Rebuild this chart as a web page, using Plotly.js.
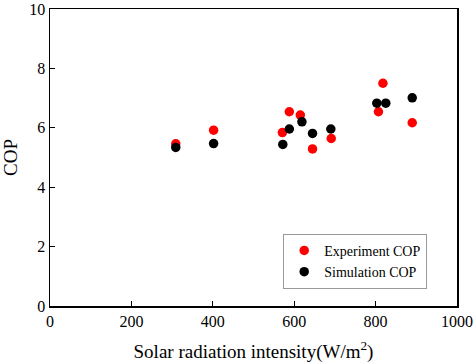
<!DOCTYPE html>
<html>
<head>
<meta charset="utf-8">
<script src="https://cdn.plot.ly/plotly-3.0.1.min.js"></script>
<style>html,body{margin:0;padding:0;background:#fff;}#chart{width:474px;height:364px;}</style>
</head>
<body>
<div id="chart"></div>
<script>
const expX = [309, 402, 571, 588, 615, 645, 691, 807, 818, 890];
const expY = [5.46, 5.92, 5.84, 6.54, 6.43, 5.29, 5.64, 6.54, 7.5, 6.17];
const simX = [309, 402, 572, 588, 619, 645, 690, 803, 825, 890];
const simY = [5.34, 5.47, 5.44, 5.96, 6.2, 5.81, 5.96, 6.83, 6.83, 7.01];
const xTicks = [0, 200, 400, 600, 800, 1000];
const yTicks = [0, 2, 4, 6, 8, 10];

const serif = "'Liberation Serif', 'Times New Roman', serif";
const traces = [
  {x: expX, y: expY, mode: 'markers', type: 'scatter', name: 'Experiment COP',
   marker: {color: '#ff0000', size: 9.5}},
  {x: simX, y: simY, mode: 'markers', type: 'scatter', name: 'Simulation COP',
   marker: {color: '#000000', size: 9.5}}
];
function axis(extra) {
  return Object.assign({
    showgrid: false, zeroline: false, showline: true, linecolor: '#000', linewidth: 1.5,
    mirror: true, ticks: 'inside', ticklen: 5, tickwidth: 1.2, tickcolor: '#000',
    ticklabeloverflow: 'allow',
    tickfont: {family: serif, size: 16, color: '#000'}
  }, extra);
}
const layout = {
  width: 474, height: 364,
  margin: {l: 50, r: 17, t: 9, b: 58},
  paper_bgcolor: '#fff', plot_bgcolor: '#fff',
  showlegend: true,
  legend: {x: 0.573, y: 0.243, xanchor: 'left', yanchor: 'top',
    bordercolor: '#999', borderwidth: 1, bgcolor: '#fff',
    font: {family: serif, size: 14, color: '#000'}, tracegroupgap: 0},
  xaxis: axis({range: [0, 1000], tickvals: xTicks,
    title: {text: 'Solar radiation intensity(W/m<sup>2</sup>)', font: {family: serif, size: 19, color: '#000'}, standoff: 16}}),
  yaxis: axis({range: [0, 10], tickvals: yTicks,
    title: {text: 'COP', font: {family: serif, size: 19, color: '#000'}, standoff: 12}})
};
Plotly.newPlot('chart', traces, layout, {displayModeBar: false, staticPlot: true});
</script>
</body>
</html>
